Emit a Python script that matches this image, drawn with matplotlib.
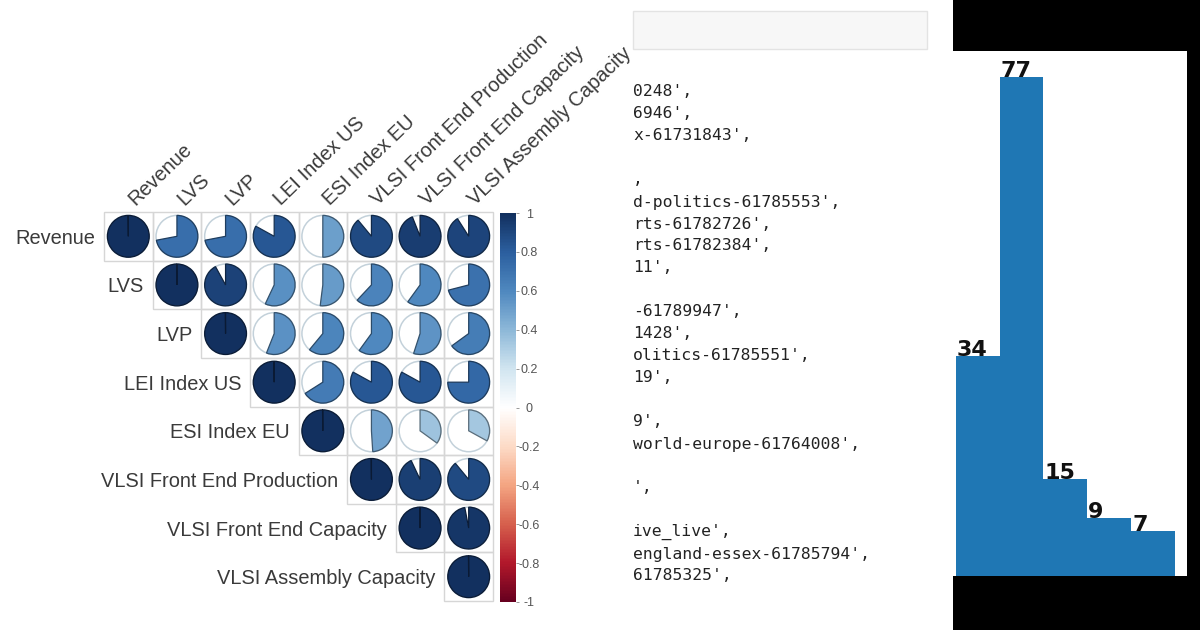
import matplotlib

matplotlib.use("Agg")
import matplotlib.pyplot as plt
from matplotlib.cm import ScalarMappable
from matplotlib.colors import LinearSegmentedColormap, Normalize, to_rgb
from matplotlib.patches import Circle, Rectangle, Wedge

W, H = 1200, 630

labels = ["Revenue", "LVS", "LVP", "LEI Index US", "ESI Index EU",
          "VLSI Front End Production", "VLSI Front End Capacity",
          "VLSI Assembly Capacity"]

# upper triangle only, each row starts on the diagonal
corr_revenue = [1.0, 0.72, 0.72, 0.83, 0.50, 0.89, 0.94, 0.91]
corr_lvs = [1.0, 0.92, 0.57, 0.52, 0.62, 0.60, 0.71]
corr_lvp = [1.0, 0.56, 0.61, 0.60, 0.55, 0.65]
corr_lei = [1.0, 0.66, 0.83, 0.83, 0.75]
corr_esi = [1.0, 0.49, 0.35, 0.33]
corr_fep = [1.0, 0.93, 0.89]
corr_fec = [1.0, 0.97]
corr_vac = [1.0]
corr_rows = [corr_revenue, corr_lvs, corr_lvp, corr_lei, corr_esi, corr_fep,
             corr_fec, corr_vac]

cbar_ticks = [1, 0.8, 0.6, 0.4, 0.2, 0, -0.2, -0.4, -0.6, -0.8, -1]
cbar_ticklabels = ["1", "0.8", "0.6", "0.4", "0.2", "0", "-0.2", "-0.4",
                   "-0.6", "-0.8", "-1"]

bar_values = [34, 77, 15, 9, 7]

# right ends of the cropped notebook output, None = blank line
code_lines = ["0248',", "6946',", "x-61731843',", None, ",",
              "d-politics-61785553',", "rts-61782726',", "rts-61782384',",
              "11',", None, "-61789947',", "1428',", "olitics-61785551',",
              "19',", None, "9',", "world-europe-61764008',", None, "',",
              None, "ive_live',", "england-essex-61785794',", "61785325',"]

cmap = LinearSegmentedColormap.from_list(
    "corr", ["#67001F", "#B2182B", "#D6604D", "#F4A582", "#FDDBC7", "#FFFFFF",
             "#D1E5F0", "#8DB8D8", "#4F88BF", "#2B5F9F", "#12305F"])
norm = Normalize(-1, 1)


def px_axes(fig, x0, y0, x1, y1, **kwargs):
    # rectangle given in image pixels, y going down
    return fig.add_axes([x0 / W, 1 - y1 / H, (x1 - x0) / W, (y1 - y0) / H], **kwargs)


def darker(color, amount=0.45):
    return tuple(c * (1 - amount) for c in to_rgb(color))


fig = plt.figure(figsize=(W / 100, H / 100), dpi=100, facecolor="white")
plt.rcParams["font.family"] = ["Liberation Sans", "DejaVu Sans"]

# correlation pies
ax = px_axes(fig, 104, 212, 493, 601)
ax.set_xlim(0, 8)
ax.set_ylim(8, 0)
ax.axis("off")
for i, row in enumerate(corr_rows):
    for k, value in enumerate(row):
        j = i + k
        ax.add_patch(Rectangle((j, i), 1, 1, fc="none", ec="#d6d6d6", lw=1,
                               clip_on=False))
        center = (j + 0.5, i + 0.5)
        ax.add_patch(Circle(center, 0.43, fc="white", ec="#c3d1da", lw=1.1))
        # y axis is inverted, so positive angles run clockwise from the top
        fill = cmap(norm(value))
        ax.add_patch(Wedge(center, 0.43, -90, -90 + 360 * min(value, 0.998),
                           fc=fill, ec=darker(fill), lw=0.9))
    ax.text(i - 0.18, i + 0.54, labels[i], ha="right", va="center",
            fontsize=14.4, color="#3a3a3a", clip_on=False)
    ax.text(i + 0.7, -0.06, labels[i], ha="left", va="bottom", rotation=44,
            rotation_mode="anchor", fontsize=14.4, color="#3a3a3a", clip_on=False)

# colour bar
cax = px_axes(fig, 500, 213, 516, 602)
cbar = fig.colorbar(ScalarMappable(norm=norm, cmap=cmap), cax=cax)
cbar.outline.set_visible(False)
cbar.set_ticks(cbar_ticks, labels=cbar_ticklabels)
cax.tick_params(axis="y", length=2.2, width=0.7, color="#999999", pad=7.5,
                labelsize=9, labelcolor="#555555")
for tick in cax.get_yticklabels():
    tick.set_ha("center")

# notebook output
fig.add_artist(Rectangle((633 / W, 1 - 49 / H), 294 / W, 38 / H, fc="#f7f7f7",
                         ec="#e3e3e3", lw=1, transform=fig.transFigure))
for n, line in enumerate(code_lines):
    if line:
        fig.text(633 / W, 1 - (92 + 22 * n) / H, line, ha="left", va="center",
                 family="DejaVu Sans Mono", fontsize=11.8, color="#222222")

# black frame around the bar chart
back = px_axes(fig, 953, 0, 1200, 630, facecolor="black")
back.set_xticks([])
back.set_yticks([])
for spine in back.spines.values():
    spine.set_visible(False)

bar_ax = px_axes(fig, 953, 51, 1187, 576)
bar_ax.bar(range(len(bar_values)), bar_values, width=1, color="#1f77b4")
bar_ax.set_xlim(-0.56, 4.77)
bar_ax.set_ylim(0, 81)
bar_ax.set_xticks([])
bar_ax.set_yticks([])
for spine in bar_ax.spines.values():
    spine.set_visible(False)
for i, value in enumerate(bar_values):
    bar_ax.text(i - 0.48, value, str(value), ha="left", va="baseline",
                family="DejaVu Sans", fontsize=16, fontweight="bold",
                color="#111111")

fig.savefig("out.png", dpi=100)
plt.close(fig)
